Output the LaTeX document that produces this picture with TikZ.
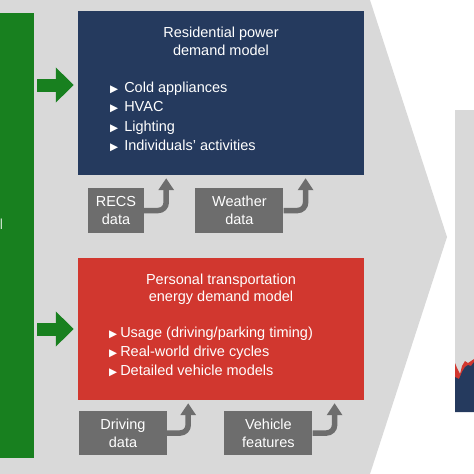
\documentclass[tikz,border=0pt]{standalone}
\usepackage{fontspec}
\setmainfont{Liberation Sans}
\newfontfamily\symfont{DejaVu Sans}
\usetikzlibrary{positioning,arrows.meta}
\definecolor{navy}{HTML}{253A5E}
\definecolor{brick}{HTML}{D1372F}
\definecolor{leaf}{HTML}{18801F}
\definecolor{bggray}{HTML}{D9D9D9}
\definecolor{boxgray}{HTML}{6D6D6D}
\newcommand{\bul}[1]{{\symfont\fontsize{10.5}{10.5}\selectfont ▶}\hspace{#1}}

\begin{document}
\begin{tikzpicture}[x=1pt,y=-1pt,
  every node/.style={text=white,inner sep=0pt},
  bigbox/.style={minimum width=286pt},
  title/.style={align=center,font=\fontsize{14.5}{17.5}\selectfont},
  items/.style={align=left,anchor=west,font=\fontsize{14.5}{19.3}\selectfont},
  databox/.style={fill=boxgray,minimum width=88pt,minimum height=44pt,align=center,font=\fontsize{14.5}{18}\selectfont},
  bigarrow/.style={leaf,line width=13pt,-{Triangle[width=34pt,length=18pt]},shorten <=3pt,shorten >=4pt},
  feed/.style={boxgray,line width=5.5pt,rounded corners=8pt,-{Triangle[width=15pt,length=12pt]},shorten >=3pt}]

\useasboundingbox (0,0) rectangle (474,474);
\fill[bggray] (0,0) -- (370,0) -- (447,237) -- (370,474) -- (0,474) -- cycle;

% chart on the right
\fill[bggray] (455,110) rectangle (480,412);
\fill[brick] (455,363) -- (457,368) -- (460,374) -- (462,366) -- (465,361) -- (468,363) -- (474,359) -- (480,359) -- (480,380) -- (455,380) -- cycle;
\fill[navy] (455,377) -- (459,379) -- (462,372) -- (465,367) -- (468,365) -- (471,366) -- (474,362) -- (480,362) -- (480,412) -- (455,412) -- cycle;

\node[fill=leaf,minimum width=34pt,minimum height=445pt](green) at (17,235.5){};
\node[text=leaf!25,font=\fontsize{14.5}{17}\selectfont] at (1.5,224){l};

\node[bigbox,fill=navy,minimum height=164pt](res) at (221,93){};
\node[title](restitle) at (221,41.5){Residential power\\demand model};
\node[items](reslist) at (110,117){\bul{6pt}Cold appliances\\\bul{6pt}HVAC\\\bul{6pt}Lighting\\\bul{6pt}Individuals’ activities};

\node[bigbox,fill=brick,minimum height=142pt](trans) at (221,329){};
\node[title](transtitle) at (221,289){Personal transportation\\energy demand model};
\node[items](translist) at (109,352){\bul{3pt}Usage (driving/parking timing)\\\bul{3pt}Real-world drive cycles\\\bul{3pt}Detailed vehicle models};

\node[databox,minimum width=56pt,minimum height=45pt](recs) at (116,210.5){RECS\\data};
\node[databox,minimum height=45pt](weather)[right=51pt of recs]{Weather\\data};
\node[databox](driving) at (123,433){Driving\\data};
\node[databox](vehicle)[right=57pt of driving]{Vehicle\\features};

\draw[bigarrow] ([yshift=8pt]res.west -| green.east) -- ([yshift=8pt]res.west);
\draw[bigarrow] (trans.west -| green.east) -- (trans.west);

\draw[feed] (recs.east) -| ([xshift=22pt]recs.east |- res.south);
\draw[feed] (weather.east) -| ([xshift=22pt]weather.east |- res.south);
\draw[feed] (driving.east) -| ([xshift=21pt]driving.east |- trans.south);
\draw[feed] (vehicle.east) -| ([xshift=22pt]vehicle.east |- trans.south);

\end{tikzpicture}
\end{document}
